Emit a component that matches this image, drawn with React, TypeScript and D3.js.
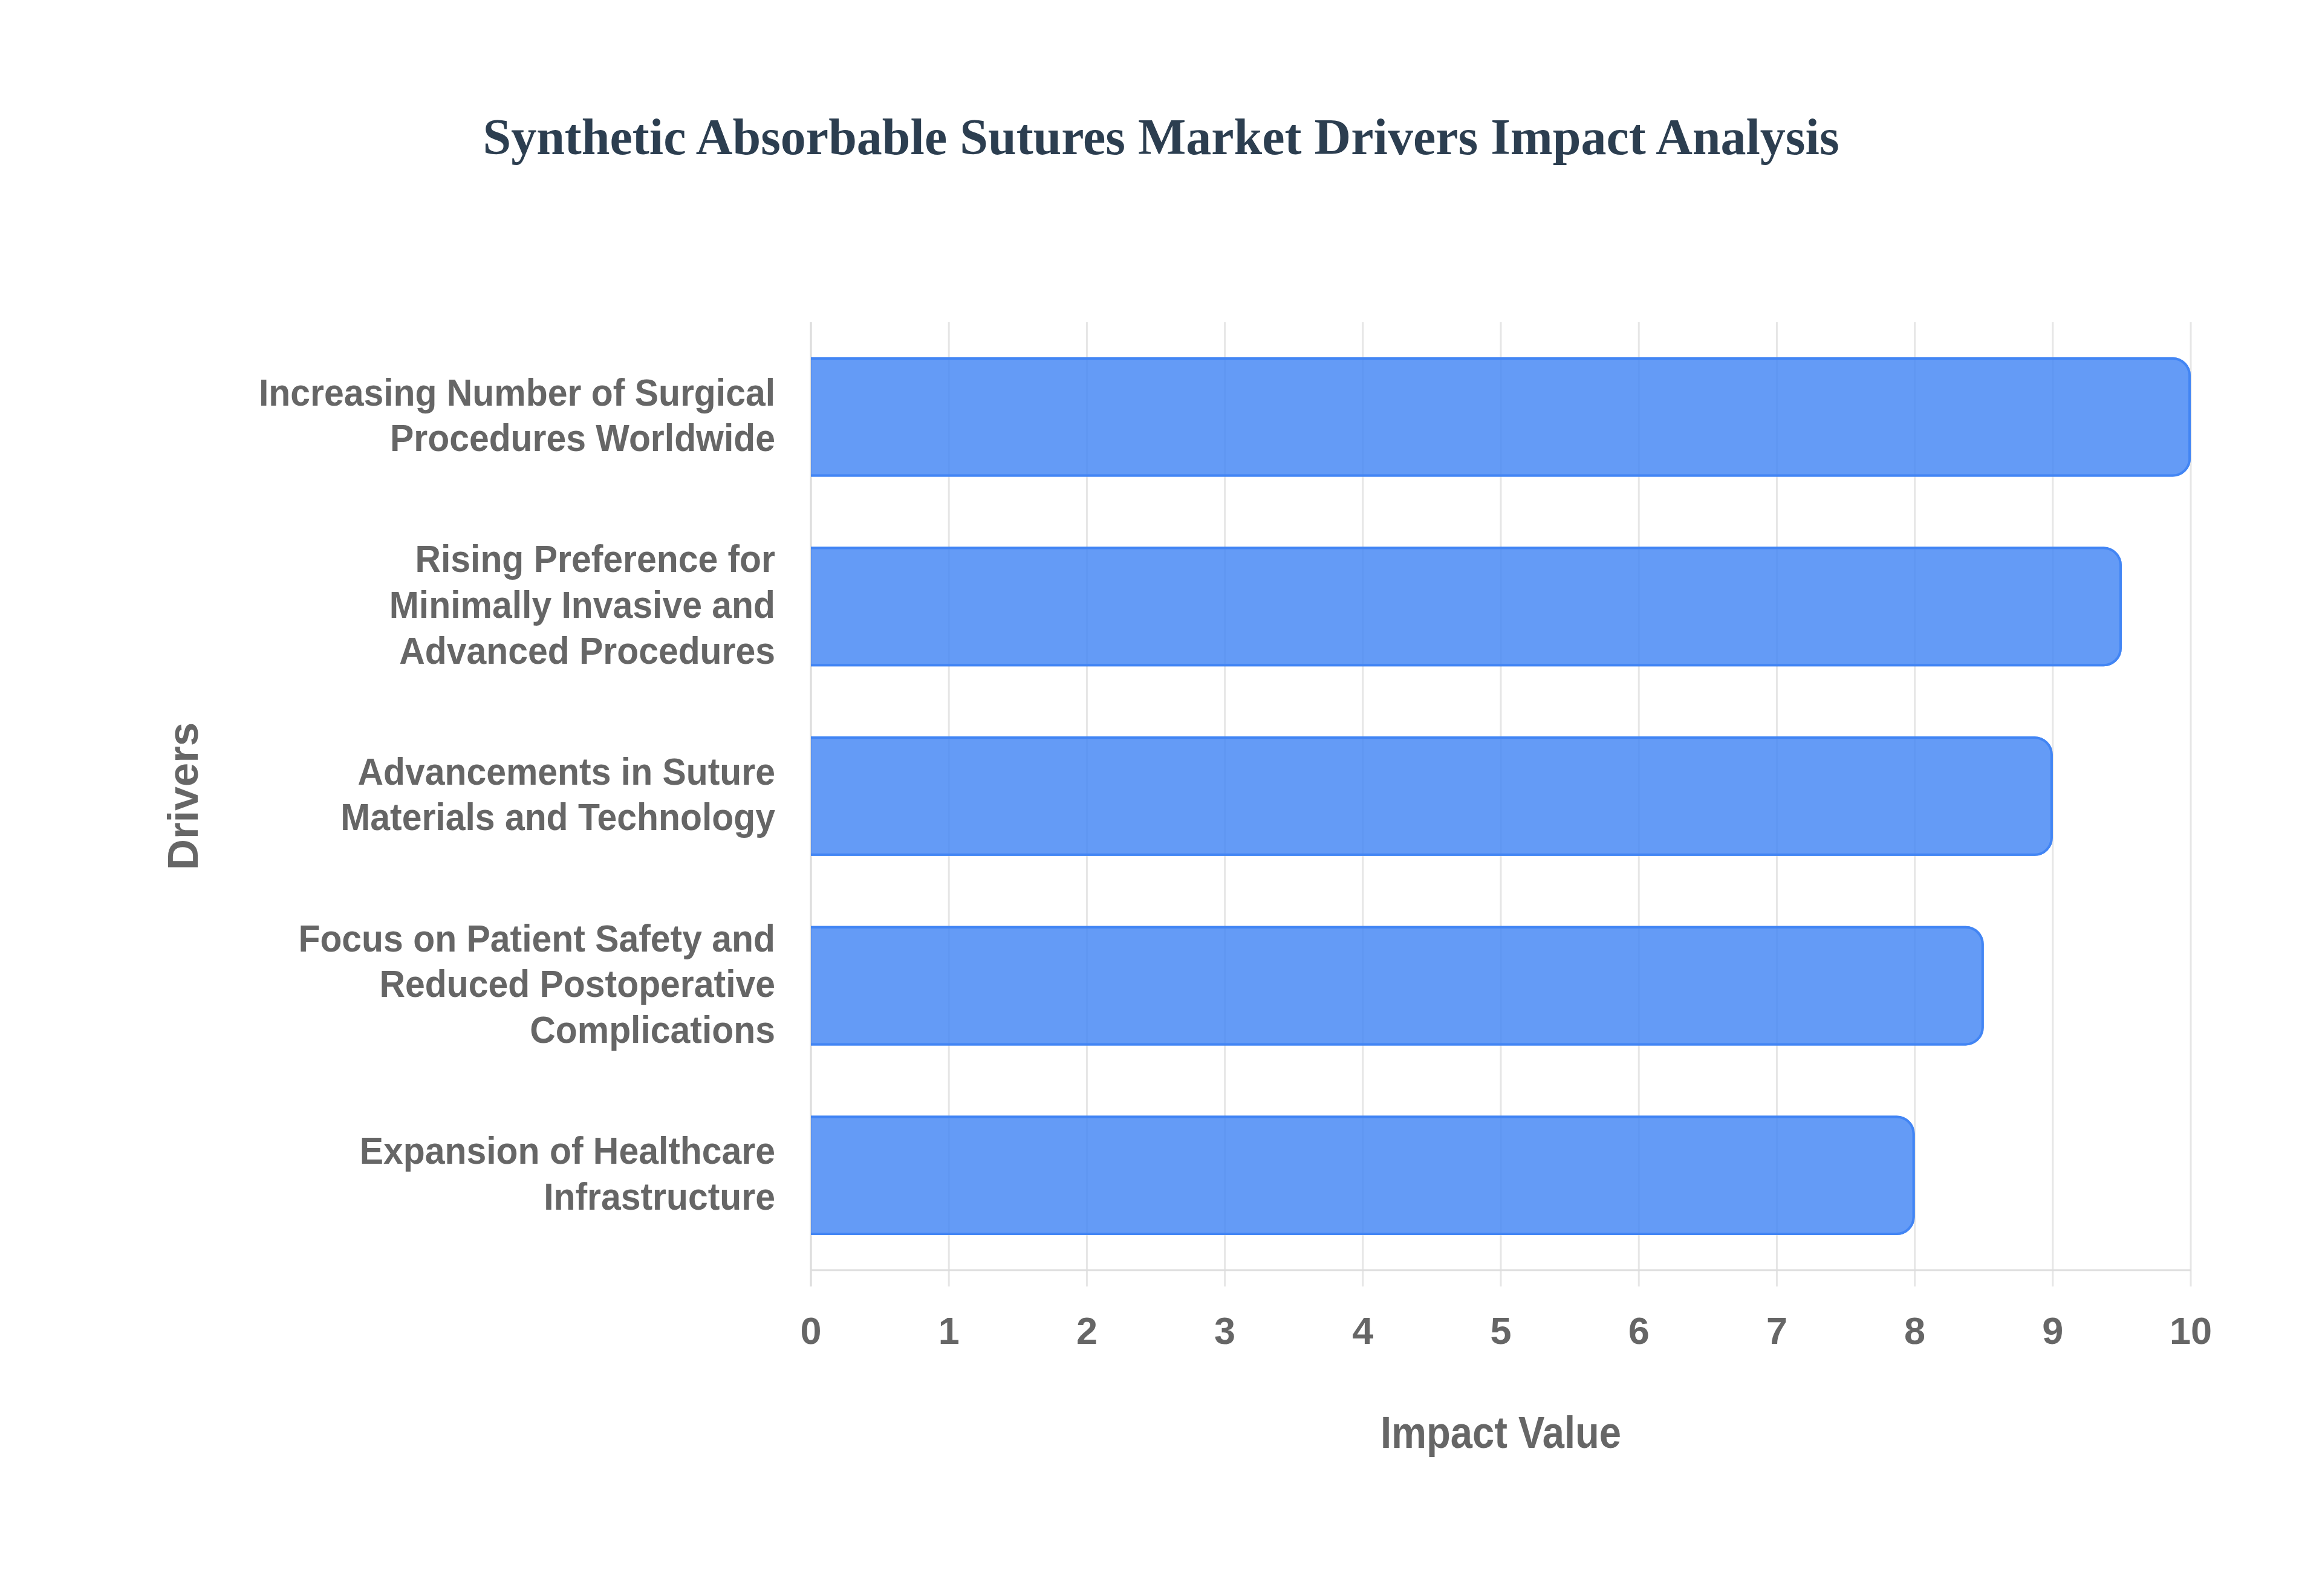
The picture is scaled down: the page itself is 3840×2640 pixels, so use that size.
import React, { useEffect } from "react";
import * as d3 from "d3";

const categories = [
  "Increasing Number of Surgical Procedures Worldwide",
  "Rising Preference for Minimally Invasive and Advanced Procedures",
  "Advancements in Suture Materials and Technology",
  "Focus on Patient Safety and Reduced Postoperative Complications",
  "Expansion of Healthcare Infrastructure",
];
const categoryLines = [
  ["Increasing Number of Surgical", "Procedures Worldwide"],
  ["Rising Preference for", "Minimally Invasive and", "Advanced Procedures"],
  ["Advancements in Suture", "Materials and Technology"],
  ["Focus on Patient Safety and", "Reduced Postoperative", "Complications"],
  ["Expansion of Healthcare", "Infrastructure"],
];
const impactValues = [10, 9.5, 9, 8.5, 8];
const xTicks = [0, 1, 2, 3, 4, 5, 6, 7, 8, 9, 10];
const chartTitle = "Synthetic Absorbable Sutures Market Drivers Impact Analysis";
const xAxisTitle = "Impact Value";
const yAxisTitle = "Drivers";

const W = 3840;
const H = 2640;
const left = 1341;
const right = 3623;
const top = 533;
const bottom = 2101;
const SANS = "'Liberation Sans', Arial, Helvetica, sans-serif";
const SERIF = "'Liberation Serif', 'Times New Roman', serif";
const GRAY = "#666666";

export default function App() {
  useEffect(() => {
    document.body.style.margin = "0";
    document.body.style.background = "#ffffff";
  }, []);

  const x = d3.scaleLinear().domain([0, 10]).range([left, right]);
  const y = d3
    .scaleBand<string>()
    .domain(categories)
    .range([top, bottom])
    .paddingInner(0.37)
    .paddingOuter(0.185);

  const bw = 4;
  const fontPx = 63;
  const lineH = 75.6;

  const barPath = (v: number, c: string, inset: number, closed: boolean) => {
    const x0 = x(0);
    const x1 = x(v) - inset;
    const y0 = (y(c) as number) + inset;
    const y1 = (y(c) as number) + y.bandwidth() - inset;
    const r = Math.min(30 - inset, (y1 - y0) / 2);
    const p = d3.path();
    p.moveTo(x0, y0);
    p.lineTo(x1 - r, y0);
    p.arcTo(x1, y0, x1, y0 + r, r);
    p.lineTo(x1, y1 - r);
    p.arcTo(x1, y1, x1 - r, y1, r);
    p.lineTo(x0, y1);
    if (closed) p.closePath();
    return p.toString();
  };

  return (
    <svg
      width={W}
      height={H}
      viewBox={`0 0 ${W} ${H}`}
      style={{ display: "block", position: "absolute", left: 0, top: 0, background: "#fff" }}
    >
      <rect x={0} y={0} width={W} height={H} fill="#ffffff" />
      <text
        x={W / 2}
        y={255}
        textAnchor="middle"
        fontFamily={SERIF}
        fontWeight="bold"
        fontSize={84}
        fill="#2c3e50"
      >
        {chartTitle}
      </text>

      {/* grid lines + ticks */}
      {xTicks.map((t) => (
        <line
          key={"g" + t}
          x1={x(t)}
          x2={x(t)}
          y1={top}
          y2={bottom + 27}
          stroke="#e6e6e6"
          strokeWidth={3}
        />
      ))}
      <line x1={x(0)} x2={x(10)} y1={bottom} y2={bottom} stroke="#dddddd" strokeWidth={3} />
      <line x1={x(0)} x2={x(0)} y1={top} y2={bottom + 27} stroke="#dddddd" strokeWidth={3} />

      {/* bars */}
      {categories.map((c, i) => (
        <g key={"b" + i}>
          <path d={barPath(impactValues[i], c, 0, true)} fill="rgba(66,133,244,0.82)" />
          <path
            d={barPath(impactValues[i], c, bw / 2, false)}
            fill="none"
            stroke="#4285f4"
            strokeWidth={bw}
          />
        </g>
      ))}

      {/* x tick labels */}
      {xTicks.map((t) => (
        <text
          key={"t" + t}
          x={x(t)}
          y={2223}
          textAnchor="middle"
          fontFamily={SANS}
          fontWeight="bold"
          fontSize={fontPx}
          fill={GRAY}
        >
          {t}
        </text>
      ))}

      {/* y category labels */}
      {categories.map((c, i) => {
        const cy = (y(c) as number) + y.bandwidth() / 2;
        const lines = categoryLines[i];
        return (
          <g key={"l" + i}>
            {lines.map((ln, j) => {
              const ly = cy + (j - (lines.length - 1) / 2) * lineH + 0.716 * fontPx / 2 - 4;
              return (
                <text
                  key={j}
                  transform={`translate(${1282},${ly}) scale(0.935,1)`}
                  textAnchor="end"
                  fontFamily={SANS}
                  fontWeight="bold"
                  fontSize={fontPx}
                  fill={GRAY}
                >
                  {ln}
                </text>
              );
            })}
          </g>
        );
      })}

      {/* axis titles */}
      <text
        transform={`translate(${(left + right) / 2},${2395}) scale(0.88,1)`}
        textAnchor="middle"
        fontFamily={SANS}
        fontWeight="bold"
        fontSize={74}
        fill={GRAY}
      >
        {xAxisTitle}
      </text>
      <text
        transform={`translate(${327},${(top + bottom) / 2}) rotate(-90)`}
        textAnchor="middle"
        fontFamily={SANS}
        fontWeight="bold"
        fontSize={71}
        fill={GRAY}
      >
        {yAxisTitle}
      </text>
    </svg>
  );
}
